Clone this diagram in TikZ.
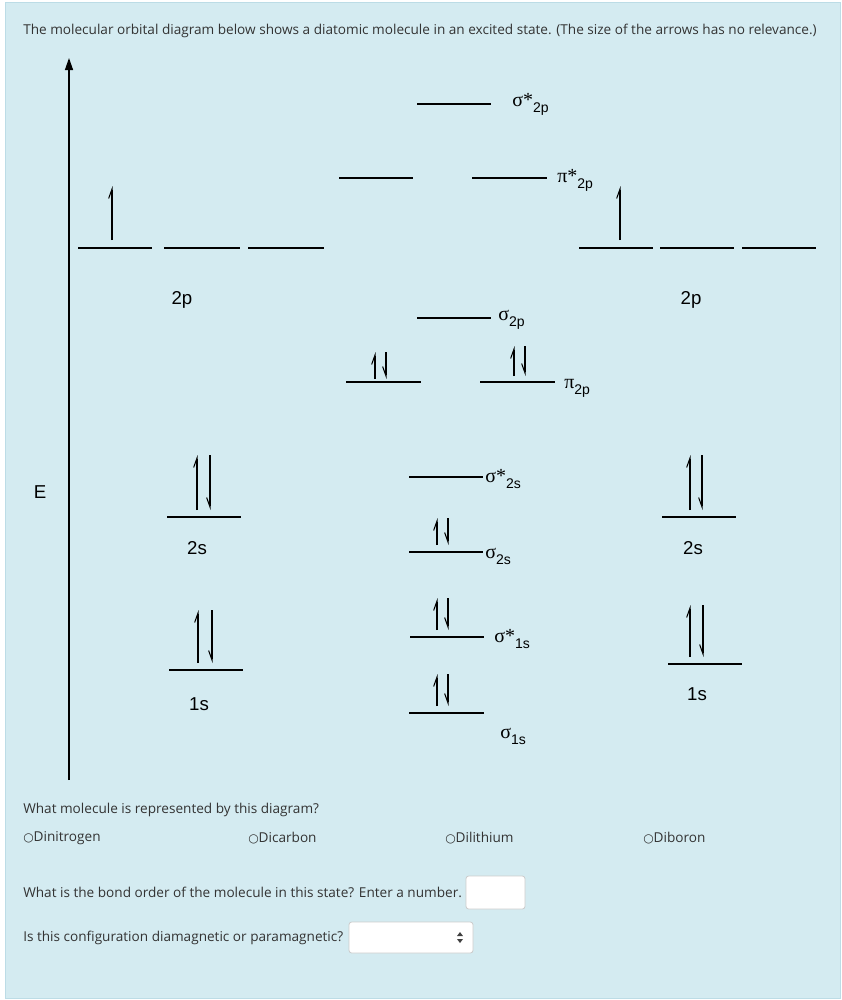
\documentclass[tikz,border=0pt]{standalone}
\usepackage{fontspec}
\setmainfont{Open Sans}
\newfontfamily\arial{Liberation Sans}
\newfontfamily\greek{Liberation Serif}
\newfontfamily\dv{DejaVu Sans}
\usetikzlibrary{arrows.meta}
\definecolor{bg}{HTML}{D4EBF1}
\definecolor{bd}{HTML}{BCDCE6}
\definecolor{tx}{HTML}{333333}
\newcommand{\sbs}[1]{\raisebox{-4.5pt}{\arial\fontsize{10.5}{10.5}\selectfont #1}}
\tikzset{
 lvl/.style={line width=1.1pt},
 up/.style={-{Straight Barb[left,length=7pt,width=5pt]},line width=0.8pt},
 dn/.style={-{Straight Barb[right,length=7pt,width=5pt]},line width=0.8pt},
 lab/.style={font=\arial\fontsize{14}{14}\selectfont,inner sep=0},
 gl/.style={font=\greek\fontsize{15}{15}\selectfont,inner sep=0,anchor=west},
 ui/.style={font=\fontsize{10.2}{12}\selectfont,text=tx,anchor=west,inner sep=0},
 inbox/.style={draw=black!20,fill=white,rounded corners=2pt,line width=0.6pt}
}
\begin{document}
\begin{tikzpicture}[x=0.75pt,y=-0.75pt]
\useasboundingbox (0,0) rectangle (842,1000);
\fill[white] (0,0) rectangle (842,1000);
\draw[fill=bg,draw=bd] (5,2) rectangle (840,998);
\node[ui] (title) at (23,31) {The molecular orbital diagram below shows a diatomic molecule in an excited state. (The size of the arrows has no relevance.)};
% axis
\coordinate (ab) at (69,780); \coordinate (at) at (69,58);
\draw[-{Triangle[length=9pt,width=6pt]},line width=1pt] (ab) -- (at);
\node[lab] (E) at (40,492) {E};
% left atom
\foreach \a/\b in {78/152,164/240,248/324} \draw[lvl] (\a,248) -- (\b,248);
\draw[up] (112,240) -- (112,186);
\node[lab] (l2p) at (182,300) {2p};
\draw[lvl] (167,517) -- (241,517);
\draw[up] (197,510) -- (197,455); \draw[dn] (210,455) -- (210,510);
\node[lab] (l2s) at (197,548) {2s};
\draw[lvl] (169,670) -- (243,670);
\draw[up] (198,663) -- (198,610); \draw[dn] (212,610) -- (212,663);
\node[lab] (l1s) at (199,704) {1s};
% center
\draw[lvl] (417,104) -- (491,104);
\node[gl] (s2ps) at (512,104) {σ*\sbs{2p}};
\draw[lvl] (339,178) -- (413,178); \draw[lvl] (472,178) -- (547,178);
\node[gl] (p2ps) at (557,180) {π*\sbs{2p}};
\draw[lvl] (417,318) -- (491,318);
\node[gl] (s2p) at (498,320) {σ\sbs{2p}};
\draw[lvl] (346,382) -- (421,382); \draw[lvl] (480,382) -- (555,382);
\draw[up] (375,379) -- (375,352); \draw[dn] (386,352) -- (386,379);
\draw[up] (514,376) -- (514,346); \draw[dn] (525,346) -- (525,376);
\node[gl] (p2p) at (564,388) {π\sbs{2p}};
\draw[lvl] (409,477) -- (483,477);
\node[gl] (s2ss) at (485,479) {σ*\sbs{2s}};
\draw[lvl] (409,552) -- (483,552);
\draw[up] (437,545) -- (437,518); \draw[dn] (448,518) -- (448,545);
\node[gl] (s2s) at (485,556) {σ\sbs{2s}};
\draw[lvl] (410,637) -- (484,637);
\draw[up] (437,630) -- (437,598); \draw[dn] (448,598) -- (448,630);
\node[gl] (s1ss) at (494,639) {σ*\sbs{1s}};
\draw[lvl] (409,713) -- (484,713);
\draw[up] (437,706) -- (437,674); \draw[dn] (448,674) -- (448,706);
\node[gl] (s1s) at (500,736) {σ\sbs{1s}};
% right atom
\foreach \a/\b in {579/653,660/734,742/816} \draw[lvl] (\a,248) -- (\b,248);
\draw[up] (620,240) -- (620,186);
\node[lab] (r2p) at (691,300) {2p};
\draw[lvl] (662,517) -- (736,517);
\draw[up] (690,510) -- (690,455); \draw[dn] (702,455) -- (702,510);
\node[lab] (r2s) at (693,548) {2s};
\draw[lvl] (668,664) -- (742,664);
\draw[up] (690,657) -- (690,605); \draw[dn] (703,605) -- (703,657);
\node[lab] (r1s) at (697,694) {1s};
% questions
\node[ui] (q1) at (23,810) {What molecule is represented by this diagram?};
\node[ui] (o1) at (23,838) {{\dv\fontsize{9}{9}\selectfont ○}Dinitrogen};
\node[ui] (o2) at (248,838) {{\dv\fontsize{9}{9}\selectfont ○}Dicarbon};
\node[ui] (o3) at (445,838) {{\dv\fontsize{9}{9}\selectfont ○}Dilithium};
\node[ui] (o4) at (643,838) {{\dv\fontsize{9}{9}\selectfont ○}Diboron};
\node[ui] (q2) at (23,892) {What is the bond order of the molecule in this state? Enter a number.};
\draw[inbox] (466,876) rectangle (525,909);
\node[ui] (q3) at (23,938) {Is this configuration diamagnetic or paramagnetic?};
\draw[inbox] (349,922) rectangle (473,953);
\fill[black!75] (457,936) -- (463,936) -- (460,932) -- cycle;
\fill[black!75] (457,939) -- (463,939) -- (460,943) -- cycle;
\end{tikzpicture}
\end{document}
